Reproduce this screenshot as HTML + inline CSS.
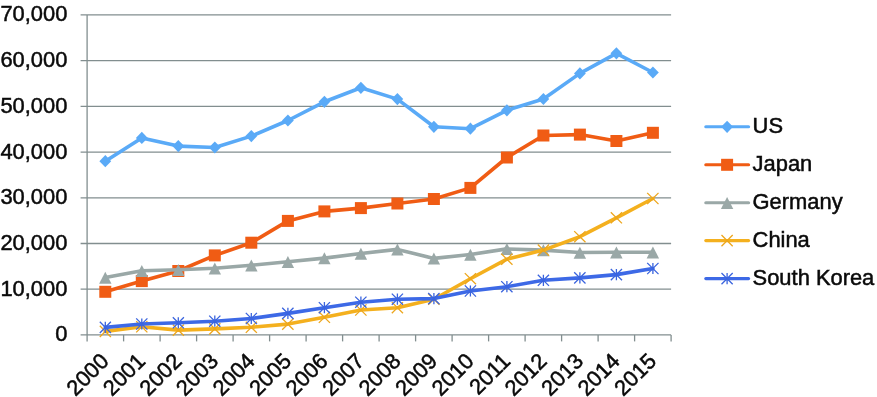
<!DOCTYPE html>
<html><head><meta charset="utf-8"><title>Chart</title>
<style>
html,body{margin:0;padding:0;background:#fff;}
body{width:877px;height:397px;overflow:hidden;}
svg{display:block;}
text{font-family:"Liberation Sans",Arial,Helvetica,sans-serif;font-size:21.9px;fill:#0a0a0a;stroke:#0a0a0a;stroke-width:0.5px;}
</style></head><body>
<svg width="877" height="397" viewBox="0 0 877 397">
<rect width="877" height="397" fill="#fff"/>
<g stroke="#828E8F" stroke-width="1.3" fill="none">
<path d="M80.6 334.9H671.1"/>
<path d="M80.6 289.2H671.1"/>
<path d="M80.6 243.5H671.1"/>
<path d="M80.6 197.8H671.1"/>
<path d="M80.6 152.1H671.1"/>
<path d="M80.6 106.3H671.1"/>
<path d="M80.6 60.6H671.1"/>
<path d="M80.6 14.9H671.1"/>
<path d="M87.1 14.9V341.4"/>
<path d="M123.6 334.9V341.4"/>
<path d="M160.1 334.9V341.4"/>
<path d="M196.6 334.9V341.4"/>
<path d="M233.1 334.9V341.4"/>
<path d="M269.6 334.9V341.4"/>
<path d="M306.1 334.9V341.4"/>
<path d="M342.6 334.9V341.4"/>
<path d="M379.1 334.9V341.4"/>
<path d="M415.6 334.9V341.4"/>
<path d="M452.1 334.9V341.4"/>
<path d="M488.6 334.9V341.4"/>
<path d="M525.1 334.9V341.4"/>
<path d="M561.6 334.9V341.4"/>
<path d="M598.1 334.9V341.4"/>
<path d="M634.6 334.9V341.4"/>
<path d="M671.1 334.9V341.4"/>
</g>
<g text-anchor="end">
<text x="67.4" y="341.4">0</text>
<text x="67.4" y="295.7">10,000</text>
<text x="67.4" y="250.0">20,000</text>
<text x="67.4" y="204.3">30,000</text>
<text x="67.4" y="158.6">40,000</text>
<text x="67.4" y="112.8">50,000</text>
<text x="67.4" y="67.1">60,000</text>
<text x="67.4" y="21.4">70,000</text>
</g>
<g text-anchor="end">
<text transform="translate(110.0 362.5) rotate(-45)">2000</text>
<text transform="translate(146.5 362.5) rotate(-45)">2001</text>
<text transform="translate(183.0 362.5) rotate(-45)">2002</text>
<text transform="translate(219.5 362.5) rotate(-45)">2003</text>
<text transform="translate(256.1 362.5) rotate(-45)">2004</text>
<text transform="translate(292.6 362.5) rotate(-45)">2005</text>
<text transform="translate(329.1 362.5) rotate(-45)">2006</text>
<text transform="translate(365.6 362.5) rotate(-45)">2007</text>
<text transform="translate(402.1 362.5) rotate(-45)">2008</text>
<text transform="translate(438.6 362.5) rotate(-45)">2009</text>
<text transform="translate(475.1 362.5) rotate(-45)">2010</text>
<text transform="translate(511.6 362.5) rotate(-45)">2011</text>
<text transform="translate(548.1 362.5) rotate(-45)">2012</text>
<text transform="translate(584.6 362.5) rotate(-45)">2013</text>
<text transform="translate(621.1 362.5) rotate(-45)">2014</text>
<text transform="translate(657.6 362.5) rotate(-45)">2015</text>
</g>
<polyline points="105.3,161.2 141.8,137.9 178.3,146.1 214.8,147.5 251.3,136.1 287.9,120.5 324.4,101.8 360.9,87.8 397.4,99.1 433.9,126.8 470.4,128.7 506.9,110.3 543.4,99.0 579.9,73.4 616.4,53.3 652.9,72.5" fill="none" stroke="#5AAAF7" stroke-width="3.6" stroke-linejoin="round" stroke-linecap="round"/>
<path d="M105.3 155.1L111.2 161.2L105.3 167.3L99.4 161.2Z" fill="#5AAAF7"/>
<path d="M141.8 131.8L147.8 137.9L141.8 144.0L135.9 137.9Z" fill="#5AAAF7"/>
<path d="M178.3 140.0L184.2 146.1L178.3 152.2L172.4 146.1Z" fill="#5AAAF7"/>
<path d="M214.8 141.4L220.8 147.5L214.8 153.6L208.9 147.5Z" fill="#5AAAF7"/>
<path d="M251.3 130.0L257.2 136.1L251.3 142.2L245.4 136.1Z" fill="#5AAAF7"/>
<path d="M287.9 114.4L293.8 120.5L287.9 126.6L282.0 120.5Z" fill="#5AAAF7"/>
<path d="M324.4 95.7L330.2 101.8L324.4 107.9L318.5 101.8Z" fill="#5AAAF7"/>
<path d="M360.9 81.7L366.8 87.8L360.9 93.9L355.0 87.8Z" fill="#5AAAF7"/>
<path d="M397.4 93.0L403.2 99.1L397.4 105.2L391.5 99.1Z" fill="#5AAAF7"/>
<path d="M433.9 120.7L439.8 126.8L433.9 132.9L428.0 126.8Z" fill="#5AAAF7"/>
<path d="M470.4 122.6L476.2 128.7L470.4 134.8L464.5 128.7Z" fill="#5AAAF7"/>
<path d="M506.9 104.2L512.8 110.3L506.9 116.4L501.0 110.3Z" fill="#5AAAF7"/>
<path d="M543.4 92.9L549.2 99.0L543.4 105.1L537.5 99.0Z" fill="#5AAAF7"/>
<path d="M579.9 67.3L585.8 73.4L579.9 79.5L574.0 73.4Z" fill="#5AAAF7"/>
<path d="M616.4 47.2L622.2 53.3L616.4 59.4L610.5 53.3Z" fill="#5AAAF7"/>
<path d="M652.9 66.4L658.8 72.5L652.9 78.6L647.0 72.5Z" fill="#5AAAF7"/>
<polyline points="105.3,291.8 141.8,281.1 178.3,271.0 214.8,255.4 251.3,242.7 287.9,220.9 324.4,211.4 360.9,208.1 397.4,203.5 433.9,199.0 470.4,187.9 506.9,157.5 543.4,135.5 579.9,134.6 616.4,141.0 652.9,132.8" fill="none" stroke="#F05C14" stroke-width="3.6" stroke-linejoin="round" stroke-linecap="round"/>
<rect x="99.3" y="285.8" width="12.0" height="12.0" fill="#F05C14"/>
<rect x="135.8" y="275.1" width="12.0" height="12.0" fill="#F05C14"/>
<rect x="172.3" y="265.0" width="12.0" height="12.0" fill="#F05C14"/>
<rect x="208.8" y="249.4" width="12.0" height="12.0" fill="#F05C14"/>
<rect x="245.3" y="236.7" width="12.0" height="12.0" fill="#F05C14"/>
<rect x="281.9" y="214.9" width="12.0" height="12.0" fill="#F05C14"/>
<rect x="318.4" y="205.4" width="12.0" height="12.0" fill="#F05C14"/>
<rect x="354.9" y="202.1" width="12.0" height="12.0" fill="#F05C14"/>
<rect x="391.4" y="197.5" width="12.0" height="12.0" fill="#F05C14"/>
<rect x="427.9" y="193.0" width="12.0" height="12.0" fill="#F05C14"/>
<rect x="464.4" y="181.9" width="12.0" height="12.0" fill="#F05C14"/>
<rect x="500.9" y="151.5" width="12.0" height="12.0" fill="#F05C14"/>
<rect x="537.4" y="129.5" width="12.0" height="12.0" fill="#F05C14"/>
<rect x="573.9" y="128.6" width="12.0" height="12.0" fill="#F05C14"/>
<rect x="610.4" y="135.0" width="12.0" height="12.0" fill="#F05C14"/>
<rect x="646.9" y="126.8" width="12.0" height="12.0" fill="#F05C14"/>
<polyline points="105.3,277.6 141.8,270.7 178.3,269.8 214.8,268.3 251.3,265.2 287.9,261.8 324.4,258.1 360.9,253.5 397.4,249.4 433.9,258.4 470.4,254.5 506.9,248.9 543.4,250.1 579.9,252.5 616.4,252.2 652.9,252.2" fill="none" stroke="#9AA8A7" stroke-width="3.6" stroke-linejoin="round" stroke-linecap="round"/>
<path d="M105.3 271.8L111.5 283.8L99.1 283.8Z" fill="#9AA8A7"/>
<path d="M141.8 264.9L148.0 276.9L135.7 276.9Z" fill="#9AA8A7"/>
<path d="M178.3 264.0L184.5 276.0L172.2 276.0Z" fill="#9AA8A7"/>
<path d="M214.8 262.5L221.0 274.5L208.7 274.5Z" fill="#9AA8A7"/>
<path d="M251.3 259.4L257.6 271.4L245.2 271.4Z" fill="#9AA8A7"/>
<path d="M287.9 256.0L294.1 268.0L281.7 268.0Z" fill="#9AA8A7"/>
<path d="M324.4 252.3L330.6 264.3L318.2 264.3Z" fill="#9AA8A7"/>
<path d="M360.9 247.7L367.1 259.7L354.7 259.7Z" fill="#9AA8A7"/>
<path d="M397.4 243.6L403.6 255.6L391.2 255.6Z" fill="#9AA8A7"/>
<path d="M433.9 252.6L440.1 264.6L427.7 264.6Z" fill="#9AA8A7"/>
<path d="M470.4 248.7L476.6 260.7L464.2 260.7Z" fill="#9AA8A7"/>
<path d="M506.9 243.1L513.1 255.1L500.7 255.1Z" fill="#9AA8A7"/>
<path d="M543.4 244.3L549.6 256.3L537.1 256.3Z" fill="#9AA8A7"/>
<path d="M579.9 246.7L586.1 258.7L573.6 258.7Z" fill="#9AA8A7"/>
<path d="M616.4 246.4L622.6 258.4L610.1 258.4Z" fill="#9AA8A7"/>
<path d="M652.9 246.4L659.1 258.4L646.6 258.4Z" fill="#9AA8A7"/>
<polyline points="105.3,331.4 141.8,326.8 178.3,330.1 214.8,328.9 251.3,327.3 287.9,324.1 324.4,317.3 360.9,310.0 397.4,307.7 433.9,299.2 470.4,278.7 506.9,259.2 543.4,250.1 579.9,236.7 616.4,217.8 652.9,198.5" fill="none" stroke="#F4B01E" stroke-width="3.6" stroke-linejoin="round" stroke-linecap="round"/>
<path d="M99.8 325.8L110.9 337.0M110.9 325.8L99.8 337.0" stroke="#EDA61C" stroke-width="1.3" fill="none"/>
<path d="M136.2 321.2L147.4 332.4M147.4 321.2L136.2 332.4" stroke="#EDA61C" stroke-width="1.3" fill="none"/>
<path d="M172.8 324.5L183.9 335.7M183.9 324.5L172.8 335.7" stroke="#EDA61C" stroke-width="1.3" fill="none"/>
<path d="M209.2 323.3L220.4 334.5M220.4 323.3L209.2 334.5" stroke="#EDA61C" stroke-width="1.3" fill="none"/>
<path d="M245.8 321.7L256.9 332.9M256.9 321.7L245.8 332.9" stroke="#EDA61C" stroke-width="1.3" fill="none"/>
<path d="M282.2 318.5L293.5 329.7M293.5 318.5L282.2 329.7" stroke="#EDA61C" stroke-width="1.3" fill="none"/>
<path d="M318.8 311.7L330.0 322.9M330.0 311.7L318.8 322.9" stroke="#EDA61C" stroke-width="1.3" fill="none"/>
<path d="M355.2 304.4L366.5 315.6M366.5 304.4L355.2 315.6" stroke="#EDA61C" stroke-width="1.3" fill="none"/>
<path d="M391.8 302.1L403.0 313.3M403.0 302.1L391.8 313.3" stroke="#EDA61C" stroke-width="1.3" fill="none"/>
<path d="M428.2 293.6L439.5 304.8M439.5 293.6L428.2 304.8" stroke="#EDA61C" stroke-width="1.3" fill="none"/>
<path d="M464.8 273.1L476.0 284.3M476.0 273.1L464.8 284.3" stroke="#EDA61C" stroke-width="1.3" fill="none"/>
<path d="M501.2 253.6L512.5 264.8M512.5 253.6L501.2 264.8" stroke="#EDA61C" stroke-width="1.3" fill="none"/>
<path d="M537.8 244.5L549.0 255.7M549.0 244.5L537.8 255.7" stroke="#EDA61C" stroke-width="1.3" fill="none"/>
<path d="M574.2 231.1L585.5 242.3M585.5 231.1L574.2 242.3" stroke="#EDA61C" stroke-width="1.3" fill="none"/>
<path d="M610.8 212.2L622.0 223.4M622.0 212.2L610.8 223.4" stroke="#EDA61C" stroke-width="1.3" fill="none"/>
<path d="M647.2 192.9L658.5 204.1M658.5 192.9L647.2 204.1" stroke="#EDA61C" stroke-width="1.3" fill="none"/>
<polyline points="105.3,327.4 141.8,324.0 178.3,322.8 214.8,321.2 251.3,318.5 287.9,313.4 324.4,307.7 360.9,302.2 397.4,299.2 433.9,298.6 470.4,291.0 506.9,286.7 543.4,280.3 579.9,277.9 616.4,274.6 652.9,268.5" fill="none" stroke="#3D69E6" stroke-width="3.6" stroke-linejoin="round" stroke-linecap="round"/>
<path d="M99.8 321.8L110.9 333.0M110.9 321.8L99.8 333.0M105.3 321.8L105.3 333.0" stroke="#3A64DE" stroke-width="1.3" fill="none"/>
<path d="M136.2 318.4L147.4 329.6M147.4 318.4L136.2 329.6M141.8 318.4L141.8 329.6" stroke="#3A64DE" stroke-width="1.3" fill="none"/>
<path d="M172.8 317.2L183.9 328.4M183.9 317.2L172.8 328.4M178.3 317.2L178.3 328.4" stroke="#3A64DE" stroke-width="1.3" fill="none"/>
<path d="M209.2 315.6L220.4 326.8M220.4 315.6L209.2 326.8M214.8 315.6L214.8 326.8" stroke="#3A64DE" stroke-width="1.3" fill="none"/>
<path d="M245.8 312.9L256.9 324.1M256.9 312.9L245.8 324.1M251.3 312.9L251.3 324.1" stroke="#3A64DE" stroke-width="1.3" fill="none"/>
<path d="M282.2 307.8L293.5 319.0M293.5 307.8L282.2 319.0M287.9 307.8L287.9 319.0" stroke="#3A64DE" stroke-width="1.3" fill="none"/>
<path d="M318.8 302.1L330.0 313.3M330.0 302.1L318.8 313.3M324.4 302.1L324.4 313.3" stroke="#3A64DE" stroke-width="1.3" fill="none"/>
<path d="M355.2 296.6L366.5 307.8M366.5 296.6L355.2 307.8M360.9 296.6L360.9 307.8" stroke="#3A64DE" stroke-width="1.3" fill="none"/>
<path d="M391.8 293.6L403.0 304.8M403.0 293.6L391.8 304.8M397.4 293.6L397.4 304.8" stroke="#3A64DE" stroke-width="1.3" fill="none"/>
<path d="M428.2 293.0L439.5 304.2M439.5 293.0L428.2 304.2M433.9 293.0L433.9 304.2" stroke="#3A64DE" stroke-width="1.3" fill="none"/>
<path d="M464.8 285.4L476.0 296.6M476.0 285.4L464.8 296.6M470.4 285.4L470.4 296.6" stroke="#3A64DE" stroke-width="1.3" fill="none"/>
<path d="M501.2 281.1L512.5 292.3M512.5 281.1L501.2 292.3M506.9 281.1L506.9 292.3" stroke="#3A64DE" stroke-width="1.3" fill="none"/>
<path d="M537.8 274.7L549.0 285.9M549.0 274.7L537.8 285.9M543.4 274.7L543.4 285.9" stroke="#3A64DE" stroke-width="1.3" fill="none"/>
<path d="M574.2 272.3L585.5 283.5M585.5 272.3L574.2 283.5M579.9 272.3L579.9 283.5" stroke="#3A64DE" stroke-width="1.3" fill="none"/>
<path d="M610.8 269.0L622.0 280.2M622.0 269.0L610.8 280.2M616.4 269.0L616.4 280.2" stroke="#3A64DE" stroke-width="1.3" fill="none"/>
<path d="M647.2 262.9L658.5 274.1M658.5 262.9L647.2 274.1M652.9 262.9L652.9 274.1" stroke="#3A64DE" stroke-width="1.3" fill="none"/>
<path d="M705.8 126.8H748.6" stroke="#5AAAF7" stroke-width="3.1" stroke-linecap="round"/>
<path d="M727.1 120.7L733.0 126.8L727.1 132.9L721.2 126.8Z" fill="#5AAAF7"/>
<text x="752.6" y="133.4">US</text>
<path d="M705.8 164.8H748.6" stroke="#F05C14" stroke-width="3.1" stroke-linecap="round"/>
<rect x="721.1" y="158.8" width="12.0" height="12.0" fill="#F05C14"/>
<text x="752.6" y="171.3">Japan</text>
<path d="M705.8 202.7H748.6" stroke="#9AA8A7" stroke-width="3.1" stroke-linecap="round"/>
<path d="M727.1 196.9L733.3 208.9L720.9 208.9Z" fill="#9AA8A7"/>
<text x="752.6" y="209.3">Germany</text>
<path d="M705.8 240.6H748.6" stroke="#F4B01E" stroke-width="3.1" stroke-linecap="round"/>
<path d="M721.5 235.0L732.7 246.2M732.7 235.0L721.5 246.2" stroke="#EDA61C" stroke-width="1.3" fill="none"/>
<text x="752.6" y="247.2">China</text>
<path d="M705.8 278.6H748.6" stroke="#3D69E6" stroke-width="3.1" stroke-linecap="round"/>
<path d="M721.5 273.0L732.7 284.2M732.7 273.0L721.5 284.2M727.1 273.0L727.1 284.2" stroke="#3A64DE" stroke-width="1.3" fill="none"/>
<text x="752.6" y="285.2">South Korea</text>
</svg></body></html>
